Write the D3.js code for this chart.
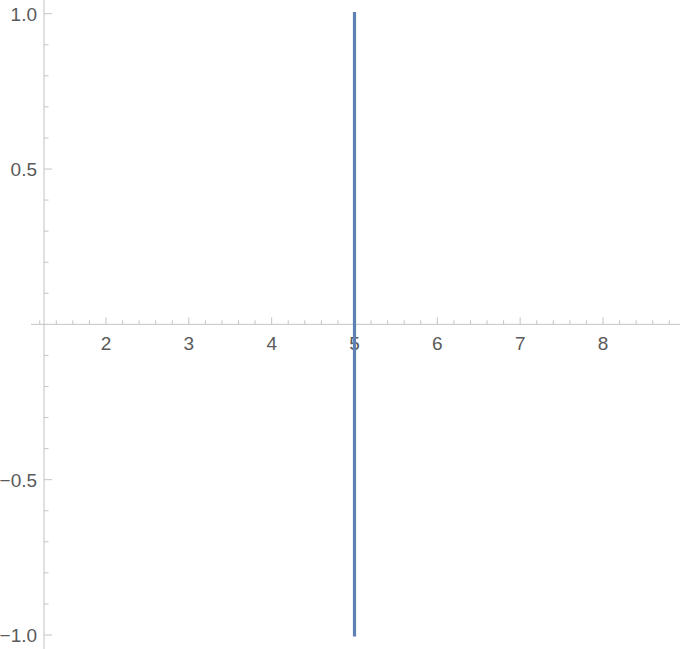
<!DOCTYPE html>
<html>
<head>
<meta charset="utf-8">
<script src="https://cdn.jsdelivr.net/npm/d3@7"></script>
<style>
  html, body { margin: 0; padding: 0; background: #fff; }
  svg { display: block; }
</style>
</head>
<body>
<div id="chart"></div>
<script>
// Data: one vertical segment at x = 5
const lineX = [5, 5];
const lineY = [-1, 1];

// Ticks
const xMajorTicks = [2, 3, 4, 5, 6, 7, 8];
const yMajorTicks = [-1.0, -0.5, 0.5, 1.0];
const xMinorTicks = d3.range(1.2, 8.81, 0.2).filter(v => Math.abs(v - Math.round(v)) > 1e-6);
const yMinorTicks = d3.range(-1.0, 1.01, 0.1).filter(v => Math.abs(v) > 1e-6 && Math.abs(v * 2 - Math.round(v * 2)) > 1e-6);

const width = 680, height = 649;
const axisColor = '#c4c4c4';
const labelColor = '#5a5a5a';
const font = '"Liberation Sans", Arial, sans-serif';

const x = d3.scaleLinear().domain([2, 8]).range([106, 603]);
const y = d3.scaleLinear().domain([-1, 1]).range([635, 13.7]);

const originX = 1.252; // where the y axis sits

const svg = d3.select('#chart').append('svg')
    .attr('width', width)
    .attr('height', height);

// x axis line
const gx = svg.append('g');
gx.append('line')
    .attr('x1', 31).attr('x2', width)
    .attr('y1', y(0)).attr('y2', y(0))
    .attr('stroke', axisColor).attr('stroke-width', 1);

gx.selectAll('line.minor')
    .data(xMinorTicks)
    .enter().append('line')
    .attr('class', 'minor')
    .attr('x1', d => x(d)).attr('x2', d => x(d))
    .attr('y1', y(0)).attr('y2', y(0) - 4)
    .attr('stroke', axisColor);

gx.selectAll('line.major')
    .data(xMajorTicks)
    .enter().append('line')
    .attr('class', 'major')
    .attr('x1', d => x(d)).attr('x2', d => x(d))
    .attr('y1', y(0)).attr('y2', y(0) - 7)
    .attr('stroke', axisColor);

gx.selectAll('text')
    .data(xMajorTicks)
    .enter().append('text')
    .attr('x', d => x(d))
    .attr('y', y(0) + 25.5)
    .attr('text-anchor', 'middle')
    .attr('font-family', font)
    .attr('font-size', 19)
    .attr('fill', labelColor)
    .text(d => d);

// y axis line
const gy = svg.append('g');
gy.append('line')
    .attr('x1', x(originX)).attr('x2', x(originX))
    .attr('y1', 0).attr('y2', height)
    .attr('stroke', axisColor).attr('stroke-width', 1);

gy.selectAll('line.minor')
    .data(yMinorTicks)
    .enter().append('line')
    .attr('class', 'minor')
    .attr('x1', x(originX)).attr('x2', x(originX) + 4.5)
    .attr('y1', d => y(d)).attr('y2', d => y(d))
    .attr('stroke', axisColor);

gy.selectAll('line.major')
    .data(yMajorTicks)
    .enter().append('line')
    .attr('class', 'major')
    .attr('x1', x(originX)).attr('x2', x(originX) + 8)
    .attr('y1', d => y(d)).attr('y2', d => y(d))
    .attr('stroke', axisColor);

const fmt = d3.format('.1f');
gy.selectAll('text')
    .data(yMajorTicks)
    .enter().append('text')
    .attr('x', x(originX) - 7)
    .attr('y', d => y(d))
    .attr('dy', '0.36em')
    .attr('text-anchor', 'end')
    .attr('font-family', font)
    .attr('font-size', 19)
    .attr('fill', labelColor)
    .text(d => fmt(d));

// the line itself
const line = d3.line()
    .x(d => x(d[0]))
    .y(d => y(d[1]));

svg.append('path')
    .datum(d3.zip(lineX, lineY))
    .attr('d', line)
    .attr('fill', 'none')
    .attr('stroke', '#5e81b5')
    .attr('stroke-width', 3.2)
    .attr('stroke-linecap', 'square');
</script>
</body>
</html>
